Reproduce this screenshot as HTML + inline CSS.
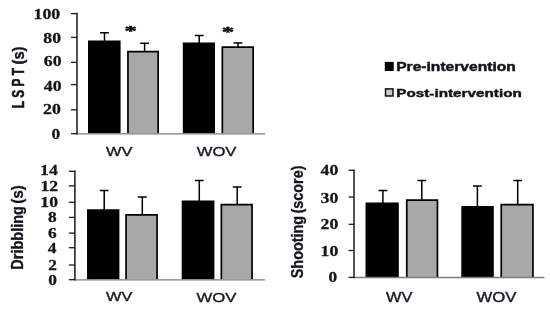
<!DOCTYPE html>
<html lang="en"><head><meta charset="utf-8"><title>Chart</title>
<style>
html,body{margin:0;padding:0;background:#fff;}
body{width:550px;height:310px;overflow:hidden;}
svg{display:block;}
</style></head><body>
<svg width="550" height="310" viewBox="0 0 550 310">
<rect width="550" height="310" fill="#ffffff"/>
<path d="M104.50 41.60V32.80M100.10 32.80H108.90" stroke="#000000" stroke-width="1.5" fill="none"/>
<path d="M88.80 133.20V41.40H119.80V133.20" fill="#000000" stroke="#000000" stroke-width="1.6"/>
<path d="M144.60 51.80V43.30M140.20 43.30H149.00" stroke="#000000" stroke-width="1.5" fill="none"/>
<path d="M127.95 133.20V51.65H158.15V133.20" fill="#a8a8a8" stroke="#000000" stroke-width="1.7"/>
<path d="M199.20 43.60V35.40M194.80 35.40H203.60" stroke="#000000" stroke-width="1.5" fill="none"/>
<path d="M183.60 133.20V43.40H214.20V133.20" fill="#000000" stroke="#000000" stroke-width="1.6"/>
<path d="M238.00 47.20V43.00M233.60 43.00H242.40" stroke="#000000" stroke-width="1.5" fill="none"/>
<path d="M222.35 133.20V47.05H253.15V133.20" fill="#a8a8a8" stroke="#000000" stroke-width="1.7"/>
<path d="M77.00 133.85H265" stroke="#7c7c7c" stroke-width="1.4" fill="none"/>
<path d="M77.00 12.85V134.45" stroke="#1a1a1a" stroke-width="1.5" fill="none"/>
<path d="M71.00 133.70H77.00" stroke="#1a1a1a" stroke-width="1.3" fill="none"/>
<text transform="matrix(0.8689 0 0 0.7333 51.61 138.50)" font-family='"Liberation Serif", serif' font-weight="bold" font-size="20" fill="#151515" stroke="#151515" stroke-width="0.3" vector-effect="non-scaling-stroke" stroke-linejoin="round">0</text>
<path d="M71.00 109.80H77.00" stroke="#1a1a1a" stroke-width="1.3" fill="none"/>
<text transform="matrix(0.8879 0 0 0.7333 43.06 114.20)" font-family='"Liberation Serif", serif' font-weight="bold" font-size="20" fill="#151515" stroke="#151515" stroke-width="0.3" vector-effect="non-scaling-stroke" stroke-linejoin="round">20</text>
<path d="M71.00 84.60H77.00" stroke="#1a1a1a" stroke-width="1.3" fill="none"/>
<text transform="matrix(0.8884 0 0 0.7333 43.75 91.00)" font-family='"Liberation Serif", serif' font-weight="bold" font-size="20" fill="#151515" stroke="#151515" stroke-width="0.3" vector-effect="non-scaling-stroke" stroke-linejoin="round">40</text>
<path d="M71.00 62.30H77.00" stroke="#1a1a1a" stroke-width="1.3" fill="none"/>
<text transform="matrix(0.8880 0 0 0.7333 43.76 66.40)" font-family='"Liberation Serif", serif' font-weight="bold" font-size="20" fill="#151515" stroke="#151515" stroke-width="0.3" vector-effect="non-scaling-stroke" stroke-linejoin="round">60</text>
<path d="M71.00 37.40H77.00" stroke="#1a1a1a" stroke-width="1.3" fill="none"/>
<text transform="matrix(0.8880 0 0 0.7333 43.36 42.60)" font-family='"Liberation Serif", serif' font-weight="bold" font-size="20" fill="#151515" stroke="#151515" stroke-width="0.3" vector-effect="non-scaling-stroke" stroke-linejoin="round">80</text>
<path d="M71.00 13.60H77.00" stroke="#1a1a1a" stroke-width="1.3" fill="none"/>
<text transform="matrix(0.8933 0 0 0.7333 33.52 19.30)" font-family='"Liberation Serif", serif' font-weight="bold" font-size="20" fill="#151515" stroke="#151515" stroke-width="0.3" vector-effect="non-scaling-stroke" stroke-linejoin="round">100</text>
<text transform="matrix(0.8222 0 0 0.6655 105.94 156.38)" font-family='"Liberation Sans", sans-serif' font-weight="normal" font-size="20" fill="#1c1c26" stroke="#1c1c26" stroke-width="0.45" vector-effect="non-scaling-stroke" stroke-linejoin="round">WV</text>
<text transform="matrix(0.8309 0 0 0.6608 196.74 156.34)" font-family='"Liberation Sans", sans-serif' font-weight="normal" font-size="20" fill="#1c1c26" stroke="#1c1c26" stroke-width="0.45" vector-effect="non-scaling-stroke" stroke-linejoin="round">WOV</text>
<path d="M104.20 210.20V190.40M99.80 190.40H108.60" stroke="#000000" stroke-width="1.5" fill="none"/>
<path d="M87.80 279.20V210.00H118.60V279.20" fill="#000000" stroke="#000000" stroke-width="1.6"/>
<path d="M142.30 215.00V197.10M137.90 197.10H146.70" stroke="#000000" stroke-width="1.5" fill="none"/>
<path d="M126.05 279.20V214.85H157.05V279.20" fill="#a8a8a8" stroke="#000000" stroke-width="1.7"/>
<path d="M199.30 201.40V180.50M194.90 180.50H203.70" stroke="#000000" stroke-width="1.5" fill="none"/>
<path d="M182.50 279.20V201.20H213.60V279.20" fill="#000000" stroke="#000000" stroke-width="1.6"/>
<path d="M237.20 204.70V187.00M232.80 187.00H241.60" stroke="#000000" stroke-width="1.5" fill="none"/>
<path d="M221.35 279.20V204.55H252.05V279.20" fill="#a8a8a8" stroke="#000000" stroke-width="1.7"/>
<path d="M74.90 279.85H265" stroke="#7c7c7c" stroke-width="1.4" fill="none"/>
<path d="M74.90 170.55V280.45" stroke="#1a1a1a" stroke-width="1.5" fill="none"/>
<path d="M68.90 279.70H74.90" stroke="#1a1a1a" stroke-width="1.3" fill="none"/>
<text transform="matrix(0.8689 0 0 0.7333 48.21 284.60)" font-family='"Liberation Serif", serif' font-weight="bold" font-size="20" fill="#151515" stroke="#151515" stroke-width="0.3" vector-effect="non-scaling-stroke" stroke-linejoin="round">0</text>
<path d="M68.90 265.00H74.90" stroke="#1a1a1a" stroke-width="1.3" fill="none"/>
<text transform="matrix(0.8680 0 0 0.7329 48.31 270.06)" font-family='"Liberation Serif", serif' font-weight="bold" font-size="20" fill="#151515" stroke="#151515" stroke-width="0.3" vector-effect="non-scaling-stroke" stroke-linejoin="round">2</text>
<path d="M68.90 247.70H74.90" stroke="#1a1a1a" stroke-width="1.3" fill="none"/>
<text transform="matrix(0.8722 0 0 0.7327 47.83 253.42)" font-family='"Liberation Serif", serif' font-weight="bold" font-size="20" fill="#151515" stroke="#151515" stroke-width="0.3" vector-effect="non-scaling-stroke" stroke-linejoin="round">4</text>
<path d="M68.90 233.10H74.90" stroke="#1a1a1a" stroke-width="1.3" fill="none"/>
<text transform="matrix(0.8697 0 0 0.7333 48.08 238.38)" font-family='"Liberation Serif", serif' font-weight="bold" font-size="20" fill="#151515" stroke="#151515" stroke-width="0.3" vector-effect="non-scaling-stroke" stroke-linejoin="round">6</text>
<path d="M68.90 217.40H74.90" stroke="#1a1a1a" stroke-width="1.3" fill="none"/>
<text transform="matrix(0.8697 0 0 0.7333 48.12 221.50)" font-family='"Liberation Serif", serif' font-weight="bold" font-size="20" fill="#151515" stroke="#151515" stroke-width="0.3" vector-effect="non-scaling-stroke" stroke-linejoin="round">8</text>
<path d="M68.90 202.30H74.90" stroke="#1a1a1a" stroke-width="1.3" fill="none"/>
<text transform="matrix(0.8872 0 0 0.7333 40.37 206.70)" font-family='"Liberation Serif", serif' font-weight="bold" font-size="20" fill="#151515" stroke="#151515" stroke-width="0.3" vector-effect="non-scaling-stroke" stroke-linejoin="round">10</text>
<path d="M68.90 185.90H74.90" stroke="#1a1a1a" stroke-width="1.3" fill="none"/>
<text transform="matrix(0.8871 0 0 0.7329 40.46 191.46)" font-family='"Liberation Serif", serif' font-weight="bold" font-size="20" fill="#151515" stroke="#151515" stroke-width="0.3" vector-effect="non-scaling-stroke" stroke-linejoin="round">12</text>
<path d="M68.90 171.30H74.90" stroke="#1a1a1a" stroke-width="1.3" fill="none"/>
<text transform="matrix(0.8875 0 0 0.7328 40.01 175.04)" font-family='"Liberation Serif", serif' font-weight="bold" font-size="20" fill="#151515" stroke="#151515" stroke-width="0.3" vector-effect="non-scaling-stroke" stroke-linejoin="round">14</text>
<text transform="matrix(0.8190 0 0 0.6655 106.04 301.38)" font-family='"Liberation Sans", sans-serif' font-weight="normal" font-size="20" fill="#1c1c26" stroke="#1c1c26" stroke-width="0.45" vector-effect="non-scaling-stroke" stroke-linejoin="round">WV</text>
<text transform="matrix(0.8351 0 0 0.6820 196.54 301.64)" font-family='"Liberation Sans", sans-serif' font-weight="normal" font-size="20" fill="#1c1c26" stroke="#1c1c26" stroke-width="0.45" vector-effect="non-scaling-stroke" stroke-linejoin="round">WOV</text>
<path d="M382.90 203.40V190.50M378.50 190.50H387.30" stroke="#000000" stroke-width="1.5" fill="none"/>
<path d="M366.30 276.90V203.20H398.00V276.90" fill="#000000" stroke="#000000" stroke-width="1.6"/>
<path d="M421.80 200.30V180.50M417.40 180.50H426.20" stroke="#000000" stroke-width="1.5" fill="none"/>
<path d="M406.75 276.90V200.15H437.45V276.90" fill="#a8a8a8" stroke="#000000" stroke-width="1.7"/>
<path d="M477.40 207.00V186.00M473.00 186.00H481.80" stroke="#000000" stroke-width="1.5" fill="none"/>
<path d="M462.10 276.90V206.80H493.00V276.90" fill="#000000" stroke="#000000" stroke-width="1.6"/>
<path d="M517.70 204.70V180.60M513.30 180.60H522.10" stroke="#000000" stroke-width="1.5" fill="none"/>
<path d="M501.25 276.90V204.55H532.95V276.90" fill="#a8a8a8" stroke="#000000" stroke-width="1.7"/>
<path d="M354.00 277.55H544.4" stroke="#7c7c7c" stroke-width="1.4" fill="none"/>
<path d="M354.00 169.55V278.15" stroke="#1a1a1a" stroke-width="1.5" fill="none"/>
<path d="M348.60 277.40H354.00" stroke="#1a1a1a" stroke-width="1.3" fill="none"/>
<text transform="matrix(0.8689 0 0 0.7333 328.61 282.30)" font-family='"Liberation Serif", serif' font-weight="bold" font-size="20" fill="#151515" stroke="#151515" stroke-width="0.3" vector-effect="non-scaling-stroke" stroke-linejoin="round">0</text>
<path d="M348.60 250.50H354.00" stroke="#1a1a1a" stroke-width="1.3" fill="none"/>
<text transform="matrix(0.8872 0 0 0.7333 320.57 255.50)" font-family='"Liberation Serif", serif' font-weight="bold" font-size="20" fill="#151515" stroke="#151515" stroke-width="0.3" vector-effect="non-scaling-stroke" stroke-linejoin="round">10</text>
<path d="M348.60 224.30H354.00" stroke="#1a1a1a" stroke-width="1.3" fill="none"/>
<text transform="matrix(0.8879 0 0 0.7333 320.56 229.20)" font-family='"Liberation Serif", serif' font-weight="bold" font-size="20" fill="#151515" stroke="#151515" stroke-width="0.3" vector-effect="non-scaling-stroke" stroke-linejoin="round">20</text>
<path d="M348.60 197.00H354.00" stroke="#1a1a1a" stroke-width="1.3" fill="none"/>
<text transform="matrix(0.8879 0 0 0.7333 320.56 202.60)" font-family='"Liberation Serif", serif' font-weight="bold" font-size="20" fill="#151515" stroke="#151515" stroke-width="0.3" vector-effect="non-scaling-stroke" stroke-linejoin="round">30</text>
<path d="M348.60 170.30H354.00" stroke="#1a1a1a" stroke-width="1.3" fill="none"/>
<text transform="matrix(0.8884 0 0 0.7333 320.55 175.20)" font-family='"Liberation Serif", serif' font-weight="bold" font-size="20" fill="#151515" stroke="#151515" stroke-width="0.3" vector-effect="non-scaling-stroke" stroke-linejoin="round">40</text>
<text transform="matrix(0.8222 0 0 0.7018 385.94 301.88)" font-family='"Liberation Sans", sans-serif' font-weight="normal" font-size="20" fill="#1c1c26" stroke="#1c1c26" stroke-width="0.45" vector-effect="non-scaling-stroke" stroke-linejoin="round">WV</text>
<text transform="matrix(0.8351 0 0 0.7102 476.54 301.93)" font-family='"Liberation Sans", sans-serif' font-weight="normal" font-size="20" fill="#1c1c26" stroke="#1c1c26" stroke-width="0.45" vector-effect="non-scaling-stroke" stroke-linejoin="round">WOV</text>
<text transform="matrix(1.2289 0 0 0.6887 124.46 36.09)" font-family='"Liberation Serif", serif' font-weight="bold" font-size="20" fill="#000000" stroke="#000000" stroke-width="0.6" vector-effect="non-scaling-stroke" stroke-linejoin="round">*</text>
<text transform="matrix(1.2289 0 0 0.6887 221.86 37.49)" font-family='"Liberation Serif", serif' font-weight="bold" font-size="20" fill="#000000" stroke="#000000" stroke-width="0.6" vector-effect="non-scaling-stroke" stroke-linejoin="round">*</text>
<text transform="matrix(0 -0.5985 0.7845 0 23.79 108.26)" font-family='"Liberation Sans", sans-serif' font-weight="bold" font-size="20" fill="#14141c" stroke="#14141c" stroke-width="0.5" vector-effect="non-scaling-stroke" stroke-linejoin="round">L S P T</text>
<text transform="matrix(0 -0.7305 0.8365 0 24.33 64.43)" font-family='"Liberation Sans", sans-serif' font-weight="bold" font-size="20" fill="#14141c" stroke="#14141c" stroke-width="0.4" vector-effect="non-scaling-stroke" stroke-linejoin="round">(s)</text>
<text transform="matrix(0 -0.7250 0.8000 0 23.35 269.63)" font-family='"Liberation Sans", sans-serif' font-weight="bold" font-size="20" fill="#14141c" stroke="#14141c" stroke-width="0.3" vector-effect="non-scaling-stroke" stroke-linejoin="round">Dribbling</text>
<text transform="matrix(0 -0.7706 0.8418 0 23.06 203.82)" font-family='"Liberation Sans", sans-serif' font-weight="bold" font-size="20" fill="#14141c" stroke="#14141c" stroke-width="0.3" vector-effect="non-scaling-stroke" stroke-linejoin="round">(s)</text>
<text transform="matrix(0 -0.7209 0.7893 0 303.30 278.28)" font-family='"Liberation Sans", sans-serif' font-weight="bold" font-size="20" fill="#14141c" stroke="#14141c" stroke-width="0.3" vector-effect="non-scaling-stroke" stroke-linejoin="round">Shooting</text>
<text transform="matrix(0 -0.7202 0.8418 0 302.76 213.57)" font-family='"Liberation Sans", sans-serif' font-weight="bold" font-size="20" fill="#14141c" stroke="#14141c" stroke-width="0.3" vector-effect="non-scaling-stroke" stroke-linejoin="round">(score)</text>
<rect x="384.8" y="61.9" width="8.9" height="9.1" fill="#000000"/>
<rect x="385.5" y="88.9" width="7.5" height="7.1" fill="#c8c8c8" stroke="#000000" stroke-width="1.4"/>
<text transform="matrix(0.7805 0 0 0.6054 396.20 70.93)" font-family='"Liberation Sans", sans-serif' font-weight="bold" font-size="20" fill="#12121c" stroke="#12121c" stroke-width="0.5" vector-effect="non-scaling-stroke" stroke-linejoin="round">Pre-intervention</text>
<text transform="matrix(0.7641 0 0 0.5714 396.22 96.64)" font-family='"Liberation Sans", sans-serif' font-weight="bold" font-size="20" fill="#12121c" stroke="#12121c" stroke-width="0.5" vector-effect="non-scaling-stroke" stroke-linejoin="round">Post-intervention</text>
</svg>
</body></html>
